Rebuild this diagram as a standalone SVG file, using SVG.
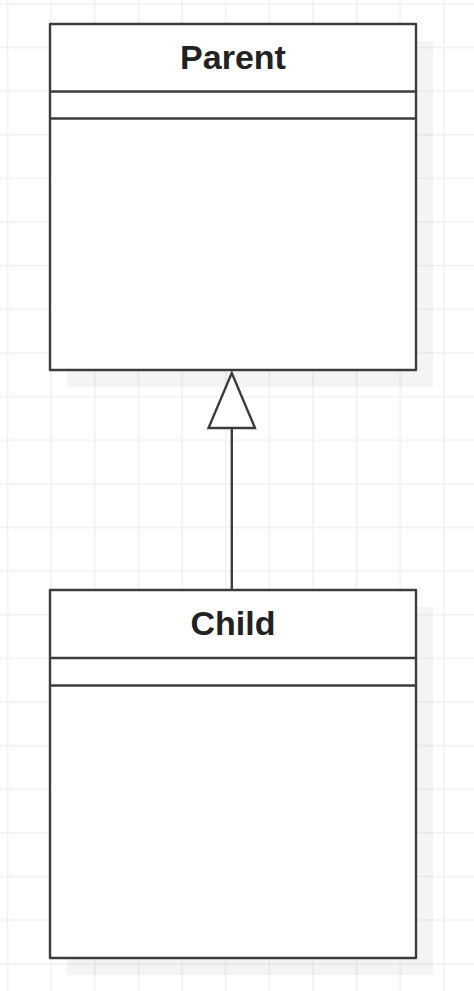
<svg xmlns="http://www.w3.org/2000/svg" width="474" height="991" viewBox="0 0 474 991">
  <style>
    .box { fill: #ffffff; stroke: #3c3c3c; stroke-width: 2.4; stroke-linejoin: round; }
    .sep { stroke: #3c3c3c; stroke-width: 2.4; fill: none; }
    .shadow { fill: #000000; fill-opacity: 0.045; }
    .title { font-family: "Liberation Sans", Arial, sans-serif; font-weight: bold; font-size: 34px; fill: #222222; text-anchor: middle; }
    .edge { stroke: #3c3c3c; stroke-width: 2.4; fill: none; }
    .head { fill: #ffffff; stroke: #3c3c3c; stroke-width: 2.4; stroke-linejoin: miter; }
  </style>
  <defs>
    <pattern id="grid" x="6.7" y="3.1" width="43.63" height="43.63" patternUnits="userSpaceOnUse">
      <path d="M0.8 0 V43.63 M0 0.8 H43.63" stroke="#f1f1f1" stroke-width="1.6" fill="none"/>
    </pattern>
  </defs>
  <rect x="0" y="0" width="474" height="991" fill="#ffffff"/>
  <rect x="0" y="0" width="474" height="991" fill="url(#grid)"/>

  <g id="parent">
    <rect class="shadow" x="67" y="41" width="366" height="346"/>
    <rect class="box" x="50" y="24" width="366" height="346"/>
    <line class="sep" x1="50" y1="91.5" x2="416" y2="91.5"/>
    <line class="sep" x1="50" y1="118.5" x2="416" y2="118.5"/>
    <text class="title" x="233" y="69">Parent</text>
  </g>

  <g id="child">
    <rect class="shadow" x="67" y="607" width="366" height="368"/>
    <rect class="box" x="50" y="590" width="366" height="368"/>
    <line class="sep" x1="50" y1="658" x2="416" y2="658"/>
    <line class="sep" x1="50" y1="685.5" x2="416" y2="685.5"/>
    <text class="title" x="233" y="635">Child</text>
  </g>

  <g id="connectors">
    <line class="edge" x1="231.8" y1="590" x2="231.8" y2="428"/>
    <polygon class="head" points="231.8,373 208.5,428 255,428"/>
  </g>
</svg>
